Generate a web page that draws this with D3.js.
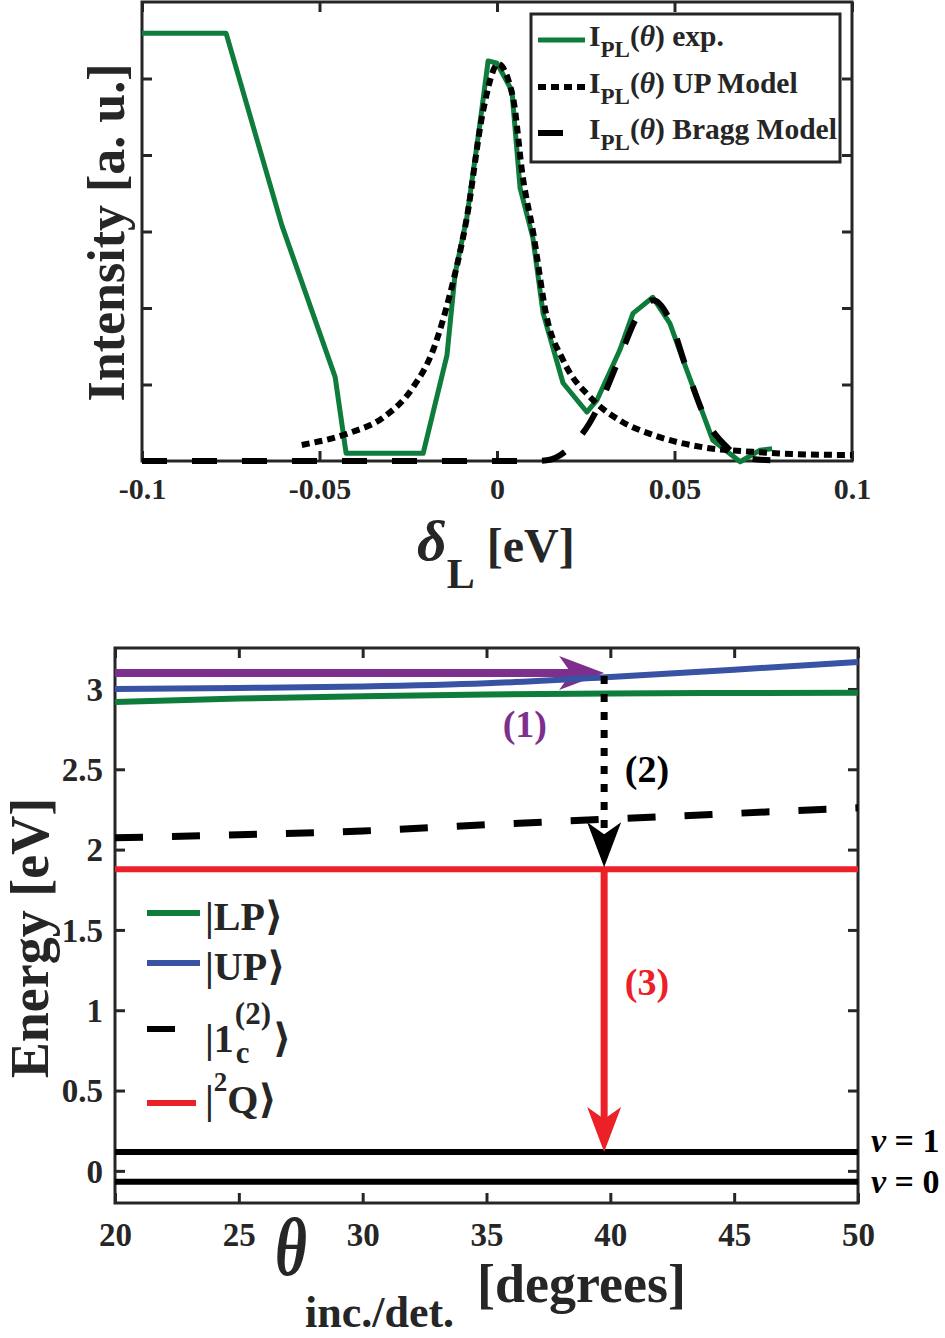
<!DOCTYPE html>
<html lang="en">
<head>
  <meta charset="utf-8"/>
  <title>PL spectrum and energy levels</title>
  <style>
    html, body { margin: 0; padding: 0; background: #fff; }
    svg { display: block; }
    text { font-family: "Liberation Serif", "Times New Roman", "DejaVu Serif", serif; font-weight: bold; fill: #262626; }
  </style>
</head>
<body>

<svg id="figure" width="945" height="1338"></svg>

<script src="https://cdn.jsdelivr.net/npm/d3@7/dist/d3.min.js"></script>
<script>

  // ---- top panel data: PL intensity vs detuning
  let expDetuning = [-0.1, -0.0763, -0.0606, -0.0456, -0.0425, -0.0208, -0.0141, -0.0118, -0.0085,
    -0.0048, -0.0025, 0.0, 0.0042, 0.0065, 0.0101, 0.013, 0.0186, 0.0253, 0.0282, 0.0346, 0.0383,
    0.0439, 0.0487, 0.0524, 0.0608, 0.0685, 0.074, 0.0775];
  let expIntensity = [5.59, 5.59, 3.08, 1.10, 0.10, 0.10, 1.38, 2.45, 3.18,
    4.41, 5.23, 5.20, 4.84, 3.57, 2.92, 1.93, 1.02, 0.64, 0.80, 1.45, 1.93,
    2.14, 1.80, 1.32, 0.27, -0.01, 0.14, 0.16];

  let upDetuning = [-0.055, -0.0414, -0.032, -0.0237, -0.018, -0.0132, -0.0085, -0.0039, 0.0003,
    0.0045, 0.0073, 0.0101, 0.014, 0.0186, 0.027, 0.0346, 0.044, 0.058, 0.072, 0.0966, 0.1];
  let upIntensity = [0.21, 0.37, 0.57, 0.96, 1.45, 2.19, 3.18, 4.58, 5.19,
    4.75, 3.70, 3.01, 1.88, 1.32, 0.80, 0.53, 0.34, 0.18, 0.12, 0.08, 0.08];

  let braggDetuning = [-0.1, 0.0, 0.010, 0.014, 0.0206, 0.026, 0.029, 0.0346, 0.0394, 0.044,
    0.0487, 0.0535, 0.059, 0.0648, 0.0685, 0.077];
  let braggIntensity = [0, 0, 0, 0.01, 0.18, 0.49, 0.75, 1.36, 1.88, 2.10,
    1.84, 1.19, 0.53, 0.18, 0.05, 0.01];

  let detuningTicks = [-0.1, -0.05, 0, 0.05, 0.1];
  let detuningTickLabels = ['-0.1', '-0.05', '0', '0.05', '0.1'];
  let intensityTicks = [1, 2, 3, 4, 5];

  // ---- bottom panel data: energy levels vs angle
  let angles = [20, 25, 30, 35, 40, 45, 50];
  let lpEnergy = [2.919, 2.94, 2.955, 2.966, 2.972, 2.975, 2.977];
  let upEnergy = [3.0, 3.006, 3.015, 3.035, 3.075, 3.12, 3.168];
  let cavityEnergy = [2.073, 2.093, 2.116, 2.155, 2.19, 2.225, 2.26];
  let quartetEnergy = 1.877;
  let vibEnergy = [0.118, -0.068];
  let vibLabels = ['1', '0'];

  let angleTicks = [20, 25, 30, 35, 40, 45, 50];
  let energyTicks = [0, 0.5, 1, 1.5, 2, 2.5, 3];
  let energyTickLabels = ['0', '0.5', '1', '1.5', '2', '2.5', '3'];

  // transitions (angle, energy)
  let pumpFrom = [20, 3.1], pumpTo = [39.75, 3.1];
  let relaxFrom = [39.75, 3.08], relaxTo = [39.75, 1.89];
  let emitFrom = [39.75, 1.877], emitTo = [39.75, 0.118];
  let stepLabels = ['(1)', '(2)', '(3)'];
  let stepLabelAngle = [36.55, 41.48, 41.48];
  let stepLabelEnergy = [2.70, 2.42, 1.095];

  let frameColor = '#262626';
  let green = '#0e7c3b', purple = '#7e2f8e', blue = '#3953a4', red = '#ec2027';

  let svg = d3.select('#figure');

  function drawFrame(g, x, y) {
    g.append('rect')
      .attr('x', x.range()[0])
      .attr('y', y.range()[1])
      .attr('width', x.range()[1] - x.range()[0])
      .attr('height', y.range()[0] - y.range()[1])
      .attr('fill', 'none')
      .attr('stroke', frameColor)
      .attr('stroke-width', 3);
  }

  function styleAxis(sel, fontSize) {
    sel.attr('font-family', null).attr('font-size', null);
    sel.select('.domain').remove();
    sel.selectAll('.tick line').attr('stroke', frameColor).attr('stroke-width', 3);
    sel.selectAll('.tick text').attr('font-size', fontSize);
  }

  function line(x, y) {
    return d3.line().x(d => x(d[0])).y(d => y(d[1]));
  }

  function arrowHead(tx, ty, dir) {
    let L = 45, W = 17, N = 12;
    if (dir === 'right') {
      return `M${tx},${ty}L${tx - L},${ty - W}L${tx - L + N},${ty}L${tx - L},${ty + W}Z`;
    }
    return `M${tx},${ty}L${tx - W},${ty - L}L${tx},${ty - L + N}L${tx + W},${ty - L}Z`;
  }

  // =========================== TOP PANEL ===========================
  let xTop = d3.scaleLinear().domain([-0.1, 0.1]).range([142, 852]);
  let yTop = d3.scaleLinear().domain([0, 6]).range([461, 2]);
  let topPanel = svg.append('g');

  topPanel.append('g')
    .attr('transform', `translate(0,${yTop(0)})`)
    .call(d3.axisBottom(xTop).tickValues(detuningTicks)
      .tickFormat((d, i) => detuningTickLabels[i])
      .tickSizeInner(-10).tickSizeOuter(0).tickPadding(0))
    .call(styleAxis, 30)
    .selectAll('.tick text').attr('dy', null).attr('y', 38);

  topPanel.append('g')
    .attr('transform', `translate(0,${yTop(6)})`)
    .call(d3.axisTop(xTop).tickValues(detuningTicks).tickFormat('')
      .tickSizeInner(-10).tickSizeOuter(0))
    .call(styleAxis, 0);

  topPanel.append('g')
    .attr('transform', `translate(${xTop(-0.1)},0)`)
    .call(d3.axisLeft(yTop).tickValues(intensityTicks).tickFormat('')
      .tickSizeInner(-10).tickSizeOuter(0))
    .call(styleAxis, 0);

  topPanel.append('g')
    .attr('transform', `translate(${xTop(0.1)},0)`)
    .call(d3.axisRight(yTop).tickValues(intensityTicks).tickFormat('')
      .tickSizeInner(-10).tickSizeOuter(0))
    .call(styleAxis, 0);

  drawFrame(topPanel, xTop, yTop);

  topPanel.append('path')
    .datum(d3.zip(expDetuning, expIntensity))
    .attr('d', line(xTop, yTop))
    .attr('fill', 'none').attr('stroke', green).attr('stroke-width', 5)
    .attr('stroke-linejoin', 'round');

  topPanel.append('path')
    .datum(d3.zip(upDetuning, upIntensity))
    .attr('d', line(xTop, yTop).curve(d3.curveMonotoneX))
    .attr('fill', 'none').attr('stroke', '#000').attr('stroke-width', 6)
    .attr('stroke-dasharray', '8,5');

  topPanel.append('path')
    .datum(d3.zip(braggDetuning, braggIntensity))
    .attr('d', line(xTop, yTop).curve(d3.curveMonotoneX))
    .attr('fill', 'none').attr('stroke', '#000').attr('stroke-width', 6)
    .attr('stroke-dasharray', '25,25');

  // legend
  let legTop = topPanel.append('g');
  legTop.append('rect')
    .attr('x', 531).attr('y', 14).attr('width', 309).attr('height', 148)
    .attr('fill', '#fff').attr('stroke', frameColor).attr('stroke-width', 3);

  let legRows = [
    {y: 40, text: ' exp.', stroke: green, dash: null, x2: 585},
    {y: 87, text: ' UP Model', stroke: '#000', dash: '8,5', x2: 585},
    {y: 133, text: ' Bragg Model', stroke: '#000', dash: '25,25', x2: 563}
  ];
  legRows.forEach(function (row) {
    legTop.append('line')
      .attr('x1', 538).attr('x2', row.x2).attr('y1', row.y).attr('y2', row.y)
      .attr('stroke', row.stroke).attr('stroke-width', row.dash ? 6 : 5)
      .attr('stroke-dasharray', row.dash);
    let t = legTop.append('text').attr('x', 589).attr('y', row.y + 6).attr('font-size', 29.5);
    t.append('tspan').text('I');
    t.append('tspan').attr('dy', 11).attr('font-size', 23).text('PL');
    t.append('tspan').attr('dy', -11).text('(');
    t.append('tspan').attr('font-style', 'italic').text('θ');
    t.append('tspan').text(')' + row.text);
  });

  // axis titles
  let xTitleTop = topPanel.append('text').attr('x', 417).attr('y', 560).attr('font-size', 48);
  xTitleTop.append('tspan').attr('font-style', 'italic').attr('font-size', 58).text('δ');
  xTitleTop.append('tspan').attr('font-size', 42).attr('dy', 28).text('L');
  xTitleTop.append('tspan').attr('dy', -26).text(' [eV]');

  topPanel.append('text')
    .attr('transform', `translate(124,${(63 + 402) / 2}) rotate(-90)`)
    .attr('text-anchor', 'middle')
    .attr('font-size', 52)
    .text('Intensity [a. u.]');

  // =========================== BOTTOM PANEL ===========================
  let xBot = d3.scaleLinear().domain([20, 50]).range([115, 858]);
  let yBot = d3.scaleLinear().domain([-0.2, 3.255]).range([1203, 648]);
  let botPanel = svg.append('g');

  botPanel.append('g')
    .attr('transform', `translate(0,${yBot(-0.2)})`)
    .call(d3.axisBottom(xBot).tickValues(angleTicks)
      .tickSizeInner(-10).tickSizeOuter(0).tickPadding(0))
    .call(styleAxis, 33)
    .selectAll('.tick text').attr('dy', null).attr('y', 43);

  botPanel.append('g')
    .attr('transform', `translate(0,${yBot(3.255)})`)
    .call(d3.axisTop(xBot).tickValues(angleTicks).tickFormat('')
      .tickSizeInner(-10).tickSizeOuter(0))
    .call(styleAxis, 0);

  botPanel.append('g')
    .attr('transform', `translate(${xBot(20)},0)`)
    .call(d3.axisLeft(yBot).tickValues(energyTicks)
      .tickFormat((d, i) => energyTickLabels[i])
      .tickSizeInner(-10).tickSizeOuter(0).tickPadding(12))
    .call(styleAxis, 33)
    .selectAll('.tick text').attr('dy', '0.34em');

  botPanel.append('g')
    .attr('transform', `translate(${xBot(50)},0)`)
    .call(d3.axisRight(yBot).tickValues(energyTicks).tickFormat('')
      .tickSizeInner(-10).tickSizeOuter(0))
    .call(styleAxis, 0);

  drawFrame(botPanel, xBot, yBot);

  // vibrational levels
  botPanel.selectAll('.vib')
    .data(vibEnergy)
    .enter()
    .append('line')
    .attr('x1', xBot(20)).attr('x2', xBot(50))
    .attr('y1', d => yBot(d)).attr('y2', d => yBot(d))
    .attr('stroke', '#000').attr('stroke-width', 6);

  botPanel.selectAll('.vibLabel')
    .data(vibEnergy)
    .enter()
    .append('text')
    .attr('x', 871)
    .attr('y', (d, i) => yBot(d) + (i === 0 ? 0 : 11))
    .attr('font-size', 34)
    .style('fill', '#000')
    .html((d, i) => `<tspan font-style="italic">ν</tspan> = ${vibLabels[i]}`);

  // quartet level
  botPanel.append('line')
    .attr('x1', xBot(20)).attr('x2', xBot(50))
    .attr('y1', yBot(quartetEnergy)).attr('y2', yBot(quartetEnergy))
    .attr('stroke', red).attr('stroke-width', 6);

  botPanel.append('path')
    .datum(d3.zip(angles, cavityEnergy))
    .attr('d', line(xBot, yBot).curve(d3.curveMonotoneX))
    .attr('fill', 'none').attr('stroke', '#000').attr('stroke-width', 7)
    .attr('stroke-dasharray', '28,29');

  // (1) pump arrow
  botPanel.append('line')
    .attr('x1', xBot(pumpFrom[0])).attr('x2', xBot(pumpTo[0]) - 33)
    .attr('y1', yBot(pumpFrom[1])).attr('y2', yBot(pumpTo[1]))
    .attr('stroke', purple).attr('stroke-width', 8);
  botPanel.append('path')
    .attr('d', arrowHead(xBot(pumpTo[0]), yBot(pumpTo[1]), 'right'))
    .attr('fill', purple);

  botPanel.append('path')
    .datum(d3.zip(angles, lpEnergy))
    .attr('d', line(xBot, yBot).curve(d3.curveMonotoneX))
    .attr('fill', 'none').attr('stroke', green).attr('stroke-width', 6);

  botPanel.append('path')
    .datum(d3.zip(angles, upEnergy))
    .attr('d', line(xBot, yBot).curve(d3.curveMonotoneX))
    .attr('fill', 'none').attr('stroke', blue).attr('stroke-width', 6);

  // (2) relaxation arrow
  botPanel.append('line')
    .attr('x1', xBot(relaxFrom[0])).attr('x2', xBot(relaxTo[0]))
    .attr('y1', yBot(relaxFrom[1])).attr('y2', yBot(relaxTo[1]) - 33)
    .attr('stroke', '#000').attr('stroke-width', 7)
    .attr('stroke-dasharray', '8,10');
  botPanel.append('path')
    .attr('d', arrowHead(xBot(relaxTo[0]), yBot(relaxTo[1]), 'down'))
    .attr('fill', '#000');

  // (3) emission arrow
  botPanel.append('line')
    .attr('x1', xBot(emitFrom[0])).attr('x2', xBot(emitTo[0]))
    .attr('y1', yBot(emitFrom[1])).attr('y2', yBot(emitTo[1]) - 33)
    .attr('stroke', red).attr('stroke-width', 7);
  botPanel.append('path')
    .attr('d', arrowHead(xBot(emitTo[0]), yBot(emitTo[1]), 'down'))
    .attr('fill', red);

  let stepColors = [purple, '#000', red];
  botPanel.selectAll('.step')
    .data(stepLabels)
    .enter()
    .append('text')
    .attr('x', (d, i) => xBot(stepLabelAngle[i]))
    .attr('y', (d, i) => yBot(stepLabelEnergy[i]))
    .attr('text-anchor', 'middle')
    .attr('font-size', 38)
    .style('fill', (d, i) => stepColors[i])
    .text(d => d);

  // legend
  let legBot = botPanel.append('g');
  let legLines = [
    {y: 913, x2: 200, stroke: green},
    {y: 963, x2: 200, stroke: blue},
    {y: 1029, x2: 175, stroke: '#000'},
    {y: 1103, x2: 196, stroke: red}
  ];
  legBot.selectAll('line')
    .data(legLines)
    .enter()
    .append('line')
    .attr('x1', 147).attr('x2', d => d.x2)
    .attr('y1', d => d.y).attr('y2', d => d.y)
    .attr('stroke', d => d.stroke).attr('stroke-width', 6);

  legBot.append('text').attr('x', 205).attr('y', 930).attr('font-size', 40).text('|LP\u27E9');
  legBot.append('text').attr('x', 205).attr('y', 980).attr('font-size', 40).text('|UP\u27E9');

  let cavLabel = legBot.append('text').attr('x', 205).attr('y', 1052).attr('font-size', 40).text('|1');
  let cavW = cavLabel.node().getComputedTextLength();
  legBot.append('text').attr('x', 205 + cavW + 2).attr('y', 1063).attr('font-size', 31).text('c');
  let supLabel = legBot.append('text').attr('x', 205 + cavW + 1).attr('y', 1024).attr('font-size', 31).text('(2)');
  let supW = supLabel.node().getComputedTextLength();
  legBot.append('text').attr('x', 205 + cavW + supW + 3).attr('y', 1052).attr('font-size', 40).text('\u27E9');

  let qLabel = legBot.append('text').attr('x', 205).attr('y', 1113).attr('font-size', 40);
  qLabel.append('tspan').text('|');
  qLabel.append('tspan').attr('dy', -22).attr('font-size', 27).text('2');
  qLabel.append('tspan').attr('dy', 22).text('Q\u27E9');

  // axis titles
  botPanel.append('text')
    .attr('transform', 'translate(275,1275) scale(0.75,1)')
    .attr('font-style', 'italic')
    .attr('font-size', 82)
    .text('θ');
  let xTitleBot = botPanel.append('text').attr('x', 305).attr('y', 1327).attr('font-size', 44);
  xTitleBot.append('tspan').text('inc./det.');
  xTitleBot.append('tspan').attr('x', 477).attr('dy', -25).attr('font-size', 54).text('[degrees]');

  botPanel.append('text')
    .attr('transform', `translate(48,${(783 + 1093) / 2}) rotate(-90)`)
    .attr('text-anchor', 'middle')
    .attr('font-size', 54)
    .text('Energy [eV]');

</script>

</body>
</html>
